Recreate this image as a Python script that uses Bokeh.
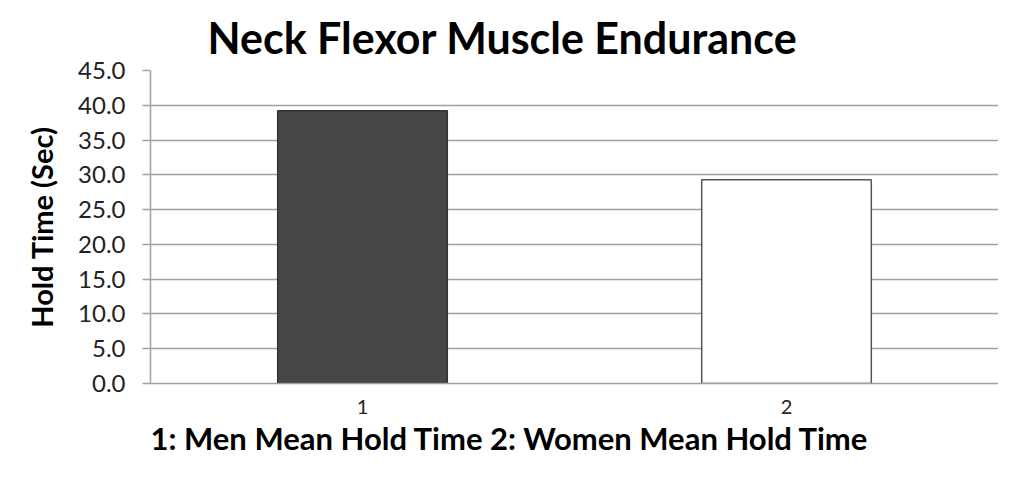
from bokeh.plotting import figure
from bokeh.models import FactorRange, Range1d, PrintfTickFormatter, ColumnDataSource, Title
from bokeh.embed import file_html
from bokeh.resources import INLINE

categories = ["1", "2"]
hold_time = [39.2, 29.3]
bar_colors = ["#474747", "#ffffff"]
line_colors = ["#333333", "#555555"]
y_ticks = [0, 5, 10, 15, 20, 25, 30, 35, 40, 45]
title_text = "Neck Flexor Muscle Endurance"
x_title_text = "1: Men Mean Hold Time  2: Women Mean Hold Time"
y_title_text = "Hold Time (Sec)"

src = ColumnDataSource(dict(x=categories, top=hold_time, fill=bar_colors, line=line_colors))

FONT = "Lato"
p = figure(width=998, height=462, x_range=FactorRange(*categories, range_padding=0),
           y_range=Range1d(0, 45), output_backend="svg", toolbar_location=None,
           title=title_text,
           min_border_left=150, min_border_right=0, min_border_top=70, min_border_bottom=79)
p.outline_line_color = None
p.vbar(x="x", top="top", width=0.4, fill_color="fill", line_color="line", line_width=1.5, source=src)

p.title.align = "left"
p.title.offset = 57
p.title.standoff = 16
p.title.text_font = FONT
p.title.text_font_size = "43px"
p.title.text_font_style = "bold"
p.title.text_color = "#000000"

xt = Title(text=x_title_text, align="left", offset=0, text_font=FONT,
           text_font_size="31px", text_font_style="bold", text_color="#000000", standoff=0)
p.add_layout(xt, "below")

p.xgrid.grid_line_color = None
p.ygrid.grid_line_color = "#a0a0a0"
p.ygrid.grid_line_width = 1.5
p.yaxis.ticker = y_ticks
p.yaxis.formatter = PrintfTickFormatter(format="%.1f")
p.yaxis.axis_line_color = "#a0a0a0"
p.yaxis.axis_line_width = 1.5
p.yaxis.major_tick_line_color = "#a0a0a0"
p.yaxis.major_tick_line_width = 1.5
p.yaxis.major_tick_out = 8
p.yaxis.major_tick_in = 0
p.yaxis.minor_tick_line_color = None
p.yaxis.major_label_text_font = FONT
p.yaxis.major_label_text_font_size = "24px"
p.yaxis.major_label_text_color = "#222222"
p.yaxis.major_label_standoff = 17
p.yaxis.axis_label = y_title_text
p.yaxis.axis_label_text_font = FONT
p.yaxis.axis_label_text_font_size = "29px"
p.yaxis.axis_label_text_font_style = "bold"
p.yaxis.axis_label_text_color = "#000000"
p.yaxis.axis_label_standoff = 16

p.xaxis.axis_line_color = "#a0a0a0"
p.xaxis.axis_line_width = 1.5
p.xaxis.major_tick_line_color = None
p.xaxis.major_tick_out = 0
p.xaxis.major_tick_in = 0
p.xaxis.minor_tick_line_color = None
p.xaxis.major_label_text_font = FONT
p.xaxis.major_label_text_font_size = "20px"
p.xaxis.major_label_text_color = "#222222"
p.xaxis.major_label_standoff = 16

open("out.html", "w").write(file_html(p, INLINE))
